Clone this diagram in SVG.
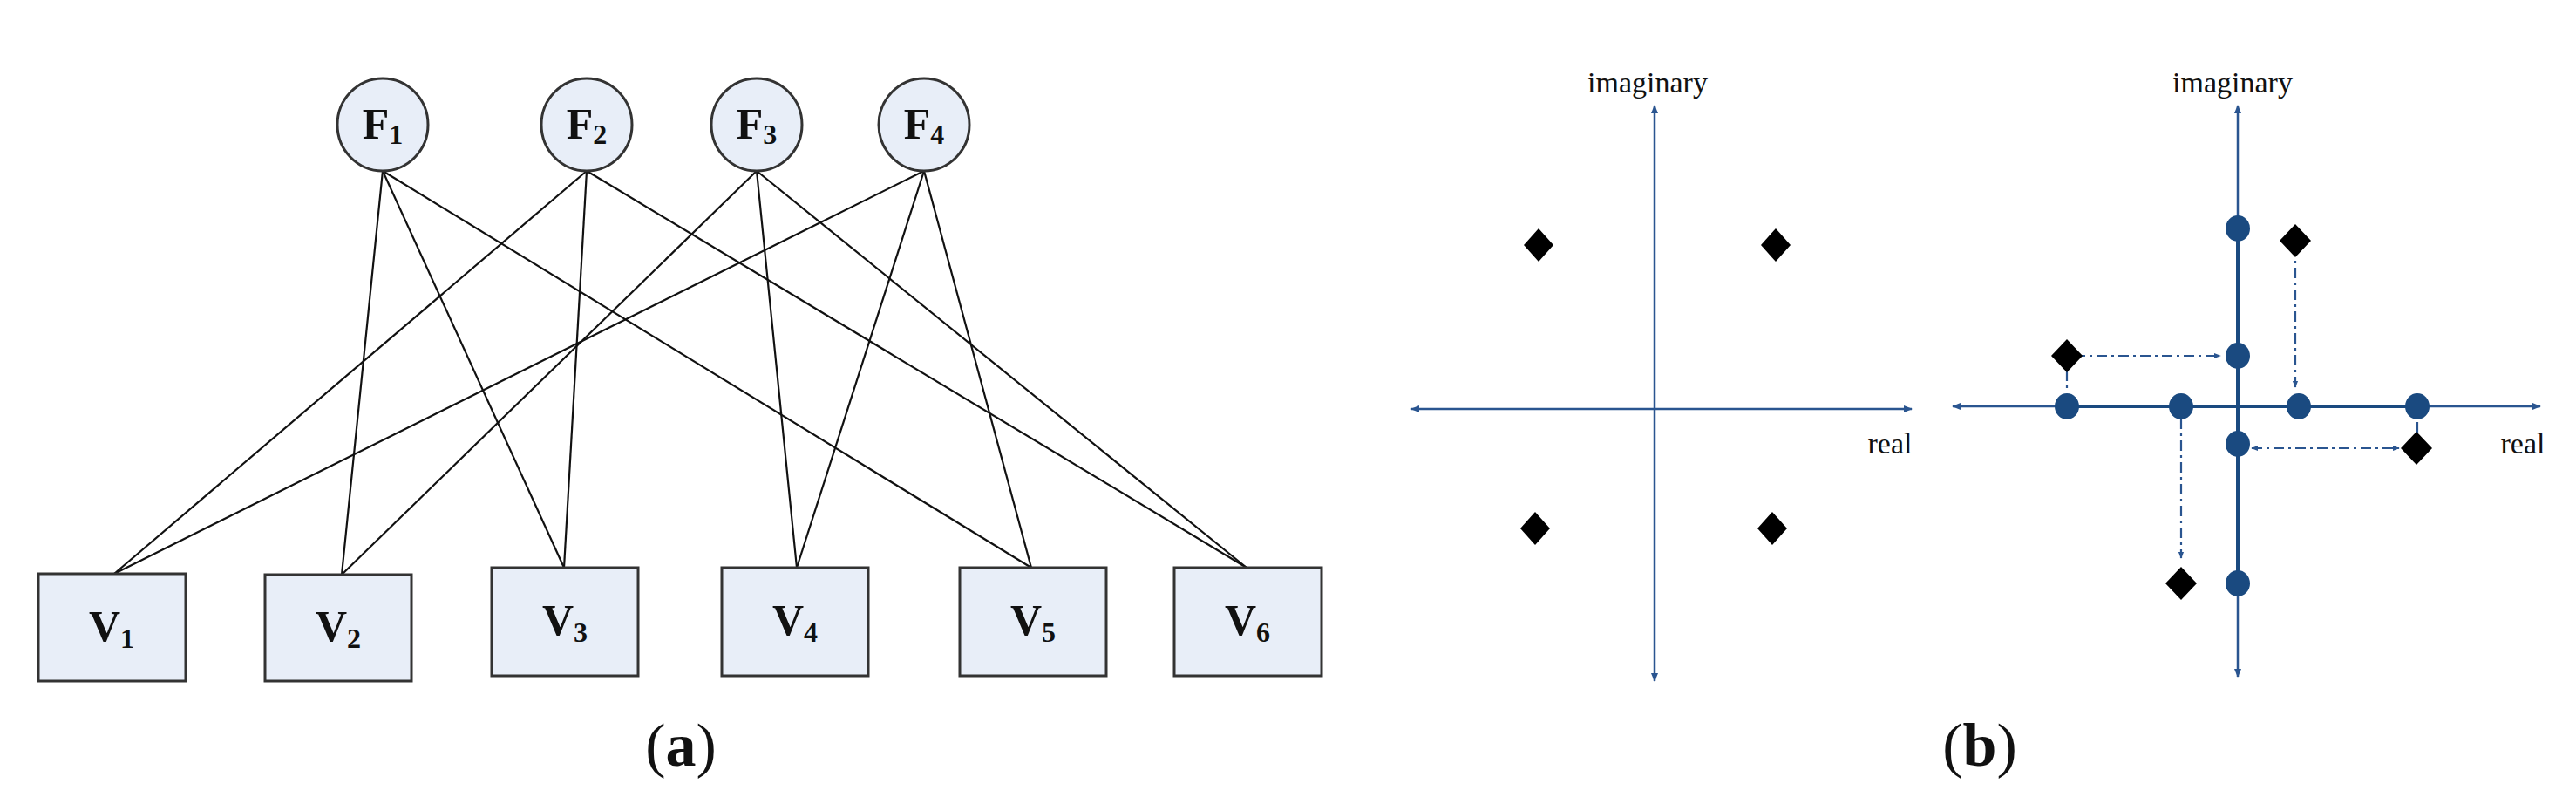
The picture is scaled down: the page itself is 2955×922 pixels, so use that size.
<svg xmlns="http://www.w3.org/2000/svg" width="2955" height="922" viewBox="0 0 2955 922">
<defs>
<marker id="ar" viewBox="0 0 10 10" refX="9" refY="5" markerWidth="10" markerHeight="10" markerUnits="userSpaceOnUse" orient="auto-start-reverse"><path d="M0,1 L10,5 L0,9 z" fill="#2a5590"/></marker>
<marker id="as" viewBox="0 0 10 10" refX="9" refY="5" markerWidth="8" markerHeight="8" markerUnits="userSpaceOnUse" orient="auto-start-reverse"><path d="M0,1 L10,5 L0,9 z" fill="#2a5590"/></marker>
</defs>
<style>
.f{fill:#e8eef8;stroke:#333;stroke-width:3}
.lbl{font-family:"Liberation Serif",serif;font-weight:bold;font-size:50px;fill:#111}
.sub{font-size:32px}
.e{stroke:#111;stroke-width:2.2;fill:none}
.ax{stroke:#2a5590;stroke-width:2.5;fill:none}
.axt{stroke:#1a4a80;stroke-width:4}
.dd{stroke:#2a5590;stroke-width:2.2;stroke-dasharray:12 5 3 5;fill:none}
.dot{fill:#1a4a80}
.dm{fill:#000}
.t{font-family:"Liberation Serif",serif;font-size:34px;fill:#111}
.cap{font-family:"Liberation Serif",serif;font-size:70px;fill:#111}
</style>
<rect width="2955" height="922" fill="#fff"/>
<g id="connectors">
<line class="e" x1="439" y1="196" x2="392" y2="659"/>
<line class="e" x1="439" y1="196" x2="647" y2="651"/>
<line class="e" x1="439" y1="196" x2="1183" y2="651"/>
<line class="e" x1="673" y1="196" x2="131" y2="658"/>
<line class="e" x1="673" y1="196" x2="647" y2="651"/>
<line class="e" x1="673" y1="196" x2="1430" y2="651"/>
<line class="e" x1="868" y1="196" x2="392" y2="659"/>
<line class="e" x1="868" y1="196" x2="914" y2="651"/>
<line class="e" x1="868" y1="196" x2="1430" y2="651"/>
<line class="e" x1="1060" y1="196" x2="131" y2="658"/>
<line class="e" x1="1060" y1="196" x2="914" y2="651"/>
<line class="e" x1="1060" y1="196" x2="1183" y2="651"/>
</g>
<g id="F1"><ellipse class="f" cx="439" cy="143" rx="52" ry="53"/><text class="lbl" x="439" y="159" text-anchor="middle">F<tspan class="sub" dy="6">1</tspan></text></g>
<g id="F2"><ellipse class="f" cx="673" cy="143" rx="52" ry="53"/><text class="lbl" x="673" y="159" text-anchor="middle">F<tspan class="sub" dy="6">2</tspan></text></g>
<g id="F3"><ellipse class="f" cx="868" cy="143" rx="52" ry="53"/><text class="lbl" x="868" y="159" text-anchor="middle">F<tspan class="sub" dy="6">3</tspan></text></g>
<g id="F4"><ellipse class="f" cx="1060" cy="143" rx="52" ry="53"/><text class="lbl" x="1060" y="159" text-anchor="middle">F<tspan class="sub" dy="6">4</tspan></text></g>
<g id="V1"><rect class="f" x="44" y="658" width="169" height="123"/><text class="lbl" x="128" y="735" text-anchor="middle">V<tspan class="sub" dy="8">1</tspan></text></g>
<g id="V2"><rect class="f" x="304" y="659" width="168" height="122"/><text class="lbl" x="388" y="735" text-anchor="middle">V<tspan class="sub" dy="8">2</tspan></text></g>
<g id="V3"><rect class="f" x="564" y="651" width="168" height="124"/><text class="lbl" x="648" y="728" text-anchor="middle">V<tspan class="sub" dy="8">3</tspan></text></g>
<g id="V4"><rect class="f" x="828" y="651" width="168" height="124"/><text class="lbl" x="912" y="728" text-anchor="middle">V<tspan class="sub" dy="8">4</tspan></text></g>
<g id="V5"><rect class="f" x="1101" y="651" width="168" height="124"/><text class="lbl" x="1185" y="728" text-anchor="middle">V<tspan class="sub" dy="8">5</tspan></text></g>
<g id="V6"><rect class="f" x="1347" y="651" width="169" height="124"/><text class="lbl" x="1431" y="728" text-anchor="middle">V<tspan class="sub" dy="8">6</tspan></text></g>
<text class="cap" x="781" y="878" text-anchor="middle">(<tspan font-weight="bold">a</tspan>)</text>

<g id="plot-left">
<line class="ax" x1="1898" y1="121" x2="1898" y2="781" marker-start="url(#ar)" marker-end="url(#ar)"/>
<line class="ax" x1="1619" y1="469" x2="2193" y2="469" marker-start="url(#ar)" marker-end="url(#ar)"/>
<text class="t" x="1890" y="106" text-anchor="middle">imaginary</text>
<text class="t" x="2168" y="520" text-anchor="middle">real</text>
<path class="dm" fill="#222" d="M1765,262 l17,19 l-17,19 l-17,-19 z"/>
<path class="dm" d="M2037,262 l17,19 l-17,19 l-17,-19 z"/>
<path class="dm" d="M1761,587 l17,19 l-17,19 l-17,-19 z"/>
<path class="dm" d="M2033,587 l17,19 l-17,19 l-17,-19 z"/>
</g>

<g id="plot-right">
<line class="ax" x1="2567" y1="121" x2="2567" y2="776" marker-start="url(#ar)" marker-end="url(#ar)"/>
<line class="ax" x1="2240" y1="466" x2="2914" y2="466" marker-start="url(#ar)" marker-end="url(#ar)"/>
<line class="axt" x1="2567" y1="262" x2="2567" y2="669"/>
<line class="axt" x1="2371" y1="466" x2="2773" y2="466"/>
<text class="t" x="2561" y="106" text-anchor="middle">imaginary</text>
<text class="t" x="2894" y="520" text-anchor="middle">real</text>
<line class="dd" x1="2380" y1="408" x2="2547" y2="408" marker-end="url(#as)"/>
<line class="dd" x1="2633" y1="282" x2="2633" y2="444" marker-end="url(#as)"/>
<line class="dd" x1="2502" y1="480" x2="2502" y2="640" marker-end="url(#as)"/>
<line class="dd" x1="2583" y1="514" x2="2752" y2="514" marker-start="url(#as)" marker-end="url(#as)"/>
<line class="dd" x1="2371" y1="425" x2="2371" y2="450"/>
<line class="dd" x1="2773" y1="484" x2="2773" y2="500"/>
<ellipse class="dot" cx="2567" cy="262" rx="14" ry="15"/>
<ellipse class="dot" cx="2567" cy="408" rx="14" ry="15"/>
<ellipse class="dot" cx="2567" cy="509" rx="14" ry="15"/>
<ellipse class="dot" cx="2567" cy="669" rx="14" ry="15"/>
<ellipse class="dot" cx="2371" cy="466" rx="14" ry="15"/>
<ellipse class="dot" cx="2502" cy="466" rx="14" ry="15"/>
<ellipse class="dot" cx="2637" cy="466" rx="14" ry="15"/>
<ellipse class="dot" cx="2773" cy="466" rx="14" ry="15"/>
<path class="dm" d="M2633,257 l18,19 l-18,19 l-18,-19 z"/>
<path class="dm" fill="#222" d="M2371,389 l18,19 l-18,19 l-18,-19 z"/>
<path class="dm" d="M2772,495 l18,19 l-18,19 l-18,-19 z"/>
<path class="dm" d="M2502,650 l18,19 l-18,19 l-18,-19 z"/>
</g>
<text class="cap" x="2271" y="878" text-anchor="middle">(<tspan font-weight="bold">b</tspan>)</text>
</svg>
